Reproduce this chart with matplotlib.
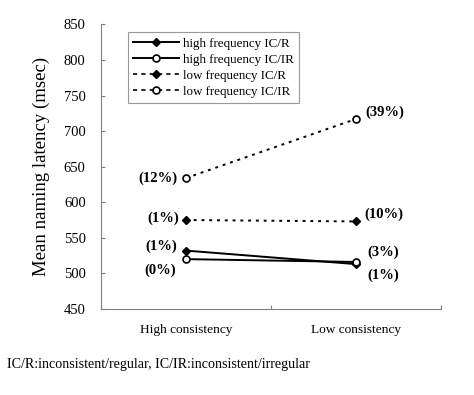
import matplotlib
matplotlib.use('Agg')
import matplotlib.pyplot as plt
from matplotlib.lines import Line2D

plt.rcParams['font.family'] = ['Liberation Serif', 'DejaVu Serif']

categories = ['High consistency', 'Low consistency']
hf_icr = [532, 513]
hf_icir = [520, 516]
lf_icr = [575, 573]
lf_icir = [634, 717]

hf_icr_err = ['(1%)', '(1%)']
hf_icir_err = ['(0%)', '(3%)']
lf_icr_err = ['(1%)', '(10%)']
lf_icir_err = ['(12%)', '(39%)']

series_names = ['high frequency IC/R', 'high frequency IC/IR',
                'low frequency IC/R', 'low frequency IC/IR']

yticks = [450, 500, 550, 600, 650, 700, 750, 800, 850]

fig = plt.figure(figsize=(4.74, 3.95), dpi=100)
ax = fig.add_axes([0.213, 0.218, 0.717, 0.72])

dotted = (0, (1.5, 2.5))
x = [0.5, 1.5]
ax.plot(x, hf_icr, '-', color='black', lw=1.4, marker='D', ms=4, mfc='black')
ax.plot(x, hf_icir, '-', color='black', lw=1.4, marker='o', ms=5,
        mfc='white', mew=1.2)
ax.plot(x, lf_icr, color='black', lw=1.4, ls=dotted, marker='D', ms=4,
        mfc='black')
ax.plot(x, lf_icir, color='black', lw=1.4, ls=dotted, marker='o', ms=5,
        mfc='white', mew=1.2)

# percentage labels, offsets in points
def lab(xv, yv, s, dx, dy, ha):
    ax.annotate(s, (xv, yv), xytext=(dx, dy), textcoords='offset points',
                ha=ha, va='center', fontsize=10.5, fontweight='bold')

lab(x[0], lf_icir[0], lf_icir_err[0], -6, 0, 'right')
lab(x[1], lf_icir[1], lf_icir_err[1], 7, 5, 'left')
lab(x[0], lf_icr[0], lf_icr_err[0], -5, 1, 'right')
lab(x[1], lf_icr[1], lf_icr_err[1], 6, 5, 'left')
lab(x[0], hf_icr[0], hf_icr_err[0], -6, 3, 'right')
lab(x[0], hf_icir[0], hf_icir_err[0], -7, -8, 'right')
lab(x[1], hf_icir[1], hf_icir_err[1], 8, 7, 'left')
lab(x[1], hf_icr[1], hf_icr_err[1], 8, -8, 'left')

ax.set_xlim(0, 2)
ax.set_ylim(450, 850)
ax.set_yticks(yticks)
ax.set_xticks([0, 1, 2])
ax.set_xticklabels([])
ax.set_xticks(x, minor=True)
ax.set_xticklabels(categories, minor=True, fontsize=9.6)
ax.tick_params(axis='x', which='minor', length=0, pad=11)
ax.tick_params(axis='both', which='major', direction='in', length=3,
               color='gray', labelsize=10.5)
ax.tick_params(axis='y', pad=11)

for s in ['top', 'right']:
    ax.spines[s].set_visible(False)
for s in ['left', 'bottom']:
    ax.spines[s].set_color('gray')

ax.set_ylabel('Mean naming latency (msec)', fontsize=13.5, labelpad=10)

# legend uses dashed handles for the low frequency series, like the original
dashed = (0, (2.5, 2.5))
handles = [
    Line2D([], [], color='black', lw=1.4, marker='D', ms=4, mfc='black'),
    Line2D([], [], color='black', lw=1.4, marker='o', ms=5, mfc='white', mew=1.2),
    Line2D([], [], color='black', lw=1.2, ls=dashed, marker='D', ms=4, mfc='black'),
    Line2D([], [], color='black', lw=1.2, ls=dashed, marker='o', ms=5, mfc='white',
           mew=1.2),
]
leg = ax.legend(handles, series_names, loc='upper left',
                bbox_to_anchor=(0.06, 0.995), fontsize=9.4,
                frameon=True, fancybox=False, edgecolor='gray',
                handlelength=3.5, borderpad=0.4, labelspacing=0.3,
                handletextpad=0.3)
leg.get_frame().set_linewidth(0.8)

fig.text(0.015, 0.076, 'IC/R:inconsistent/regular, IC/IR:inconsistent/irregular',
         fontsize=10.1, va='center')

fig.savefig('out.png', dpi=100)
